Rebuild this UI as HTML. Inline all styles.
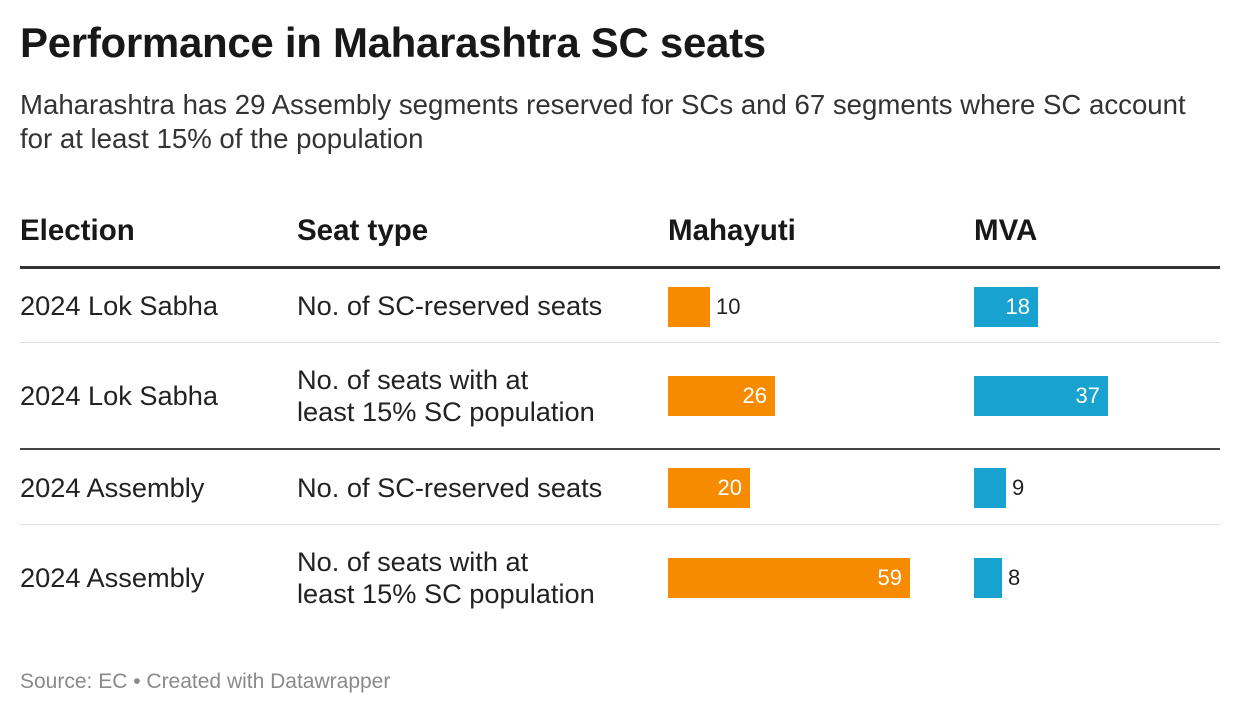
<!DOCTYPE html>
<html><head><meta charset="utf-8"><style>
body{margin:0;width:1240px;height:716px;background:#fff;font-family:"Liberation Sans",Arial,sans-serif;color:#181818;position:relative;overflow:hidden}
.a{position:absolute;white-space:nowrap}
.t{left:20px;top:19px;font-size:42px;font-weight:bold;letter-spacing:-0.3px}
.s{left:20px;top:88px;font-size:27.6px;line-height:34px;color:#333}
.h{font-size:29.5px;font-weight:bold;top:214px}
.c{font-size:27.2px;color:#222}
.bar{position:absolute;height:40px}
.o{background:#f68b00}.b{background:#18a2cf}
.in{position:absolute;right:8px;top:0;line-height:40px;color:#fff;font-size:22px}
.out{position:absolute;line-height:40px;font-size:22px;color:#222}
.line{position:absolute;left:20px;width:1200px}
.f{left:20px;top:670px;font-size:21px;color:#8a8a8a}
</style></head><body>
<div class="a t">Performance in Maharashtra SC seats</div>
<div class="a s">Maharashtra has 29 Assembly segments reserved for SCs and 67 segments where SC account<br>for at least 15% of the population</div>
<div class="a h" style="left:20px">Election</div>
<div class="a h" style="left:297px">Seat type</div>
<div class="a h" style="left:668px">Mahayuti</div>
<div class="a h" style="left:974px">MVA</div>
<div class="line" style="top:266px;height:3px;background:#333"></div>
<div class="line" style="top:342px;height:1px;background:#e2e2e2"></div>
<div class="line" style="top:448px;height:2px;background:#444"></div>
<div class="line" style="top:524px;height:1px;background:#e2e2e2"></div>

<div class="a c" style="left:20px;top:290px">2024 Lok Sabha</div>
<div class="a c" style="left:297px;top:290px">No. of SC-reserved seats</div>
<div class="bar o" style="left:668px;top:287px;width:42px"></div><div class="out" style="left:716px;top:287px">10</div>
<div class="bar b" style="left:974px;top:287px;width:64px"><span class="in">18</span></div>

<div class="a c" style="left:20px;top:380px">2024 Lok Sabha</div>
<div class="a c" style="left:297px;top:364px;line-height:32px">No. of seats with at<br>least 15% SC population</div>
<div class="bar o" style="left:668px;top:376px;width:107px"><span class="in">26</span></div>
<div class="bar b" style="left:974px;top:376px;width:134px"><span class="in">37</span></div>

<div class="a c" style="left:20px;top:472px">2024 Assembly</div>
<div class="a c" style="left:297px;top:472px">No. of SC-reserved seats</div>
<div class="bar o" style="left:668px;top:468px;width:82px"><span class="in">20</span></div>
<div class="bar b" style="left:974px;top:468px;width:32px"></div><div class="out" style="left:1012px;top:468px">9</div>

<div class="a c" style="left:20px;top:562px">2024 Assembly</div>
<div class="a c" style="left:297px;top:546px;line-height:32px">No. of seats with at<br>least 15% SC population</div>
<div class="bar o" style="left:668px;top:558px;width:242px"><span class="in">59</span></div>
<div class="bar b" style="left:974px;top:558px;width:28px"></div><div class="out" style="left:1008px;top:558px">8</div>

<div class="a f">Source: EC • Created with Datawrapper</div>
</body></html>
